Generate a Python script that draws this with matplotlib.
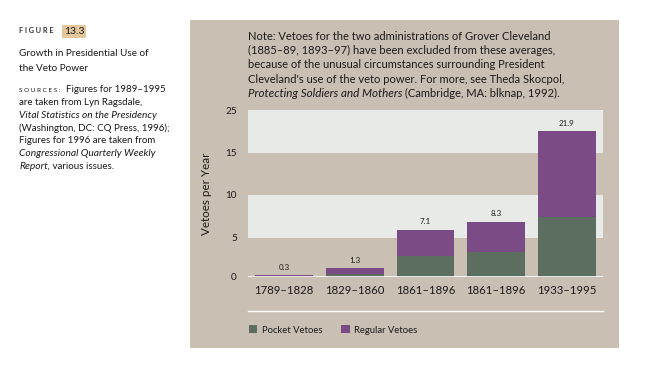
import matplotlib
matplotlib.use('Agg')
import matplotlib.pyplot as plt
from matplotlib.patches import Rectangle
from matplotlib.lines import Line2D

# data
periods = ['1789–1828', '1829–1860', '1861–1896', '1861–1896', '1933–1995']
pocket = [0.0, 0.4, 3.2, 3.7, 9.0]
regular = [0.3, 0.9, 3.9, 4.6, 12.9]
totals = ['0.3', '1.3', '7.1', '8.3', '21.9']
ytick_pos = [0, 5.9, 12.3, 18.6, 25.0]
ytick_labels = ['0', '5', '10', '15', '25']

note_lines = [
    "Note: Vetoes for the two administrations of Grover Cleveland",
    "(1885–89, 1893–97) have been excluded from these averages,",
    "because of the unusual circumstances surrounding President",
    "Cleveland's use of the veto power. For more, see Theda Skocpol,",
]

FONT = 'Lato'
W, H = 648, 386
PANEL = '#c9bfb3'
BAND = '#e7eae6'
GREEN = '#5b6e5f'
PURPLE = '#7b4b86'
TXT = '#1c1a1a'

plt.rcParams['font.family'] = [FONT, 'DejaVu Sans']

fig = plt.figure(figsize=(6.48, 3.86), dpi=100)
renderer = fig.canvas.get_renderer()


def fx(px):
    return px / W


def fy(py):
    return 1 - py / H


def rich_line(x, y, parts, size):
    # draw consecutive text pieces with different styles on one baseline
    xpos = fx(x)
    for txt, style, fs in parts:
        t = fig.text(xpos, fy(y), txt, fontsize=fs or size, style=style,
                     color=TXT, va='baseline', ha='left')
        ext = t.get_window_extent(renderer=renderer)
        xpos += ext.width / W


# beige panel behind the chart
fig.patches.append(Rectangle((fx(190), fy(348)), fx(619) - fx(190), fy(20) - fy(348),
                             transform=fig.transFigure, facecolor=PANEL,
                             edgecolor='none', zorder=-5))

# left caption block
fig.text(fx(19), fy(33), 'F I G U R E', fontsize=5.2, weight='bold', color='#333333',
         va='baseline')
fig.text(fx(64), fy(34), '13.3', fontsize=7.5, color=TXT, va='baseline',
         bbox=dict(boxstyle='square,pad=0.15', facecolor='#e6c79d', edgecolor='none'))
fig.text(fx(19), fy(56), 'Growth in Presidential Use of', fontsize=7.2, color=TXT,
         va='baseline')
fig.text(fx(19), fy(71), 'the Veto Power', fontsize=7.2, color=TXT, va='baseline')

rich_line(19, 92, [('S O U R C E S :', 'normal', 4.6), ('  ', 'normal', None),
                   ('Figures for 1989–1995', 'normal', None)], 7.0)
src = [
    [('are taken from Lyn Ragsdale,', 'normal', None)],
    [('Vital Statistics on the Presidency', 'italic', 7.3)],
    [('(Washington, DC: CQ Press, 1996);', 'normal', None)],
    [('Figures for 1996 are taken from', 'normal', None)],
    [('Congressional Quarterly Weekly', 'italic', 7.4)],
    [('Report,', 'italic', 7.4), (' various issues.', 'normal', None)],
]
for i, parts in enumerate(src):
    rich_line(19, 105 + 12.8 * i, parts, 7.0)

# note inside panel
for i, line in enumerate(note_lines):
    rich_line(248, 40 + 14.2 * i, [(line, 'normal', None)], 8.05)
rich_line(248, 40 + 14.2 * 4, [('Protecting Soldiers and Mothers', 'italic', 8.4),
                               (' (Cambridge, MA: blknap, 1992).', 'normal', None)], 8.05)

# chart
ax = fig.add_axes([fx(248), fy(277), fx(603) - fx(248), fy(110) - fy(277)])
ax.set_facecolor('none')
ax.axhspan(ytick_pos[1], ytick_pos[2], color=BAND, lw=0, zorder=0)
ax.axhspan(ytick_pos[3], ytick_pos[4], color=BAND, lw=0, zorder=0)

x = list(range(len(periods)))
ax.bar(x, pocket, width=0.82, color=GREEN, zorder=2, label='Pocket Vetoes')
ax.bar(x, regular, width=0.82, bottom=pocket, color=PURPLE, zorder=2,
       label='Regular Vetoes')
for xi, p, r, lab in zip(x, pocket, regular, totals):
    ax.annotate(lab, (xi, p + r), xytext=(0, 3), textcoords='offset points',
                ha='center', va='bottom', fontsize=5.8, color=TXT)

ax.axhline(0, color='white', lw=1.2, zorder=3)
ax.set_xlim(-0.51, 4.51)
ax.set_ylim(0, 25)
ax.set_xticks(x)
ax.set_xticklabels(periods, fontsize=8.2, color=TXT)
ax.set_yticks(ytick_pos)
ax.set_yticklabels(ytick_labels, fontsize=7.2, color=TXT)
ax.tick_params(length=0, pad=8)
ax.tick_params(axis='x', pad=6)
for s in ax.spines.values():
    s.set_visible(False)
ax.set_ylabel('Vetoes per Year', fontsize=8.4, color=TXT)
ax.yaxis.set_label_coords(-0.10, 0.5)

# white rule under the category labels
ax.add_line(Line2D([0, 1], [-0.204, -0.204], transform=ax.transAxes, color='white',
                   lw=1.0, clip_on=False))

handles, labels = ax.get_legend_handles_labels()
fig.legend(handles, labels, loc='center left', bbox_to_anchor=(fx(240), fy(330)),
           ncol=2, frameon=False, fontsize=6.8, handlelength=0.9, handleheight=0.9,
           handletextpad=0.5, columnspacing=2.0, labelcolor=TXT)

fig.savefig('out.png', dpi=100, facecolor='white')
